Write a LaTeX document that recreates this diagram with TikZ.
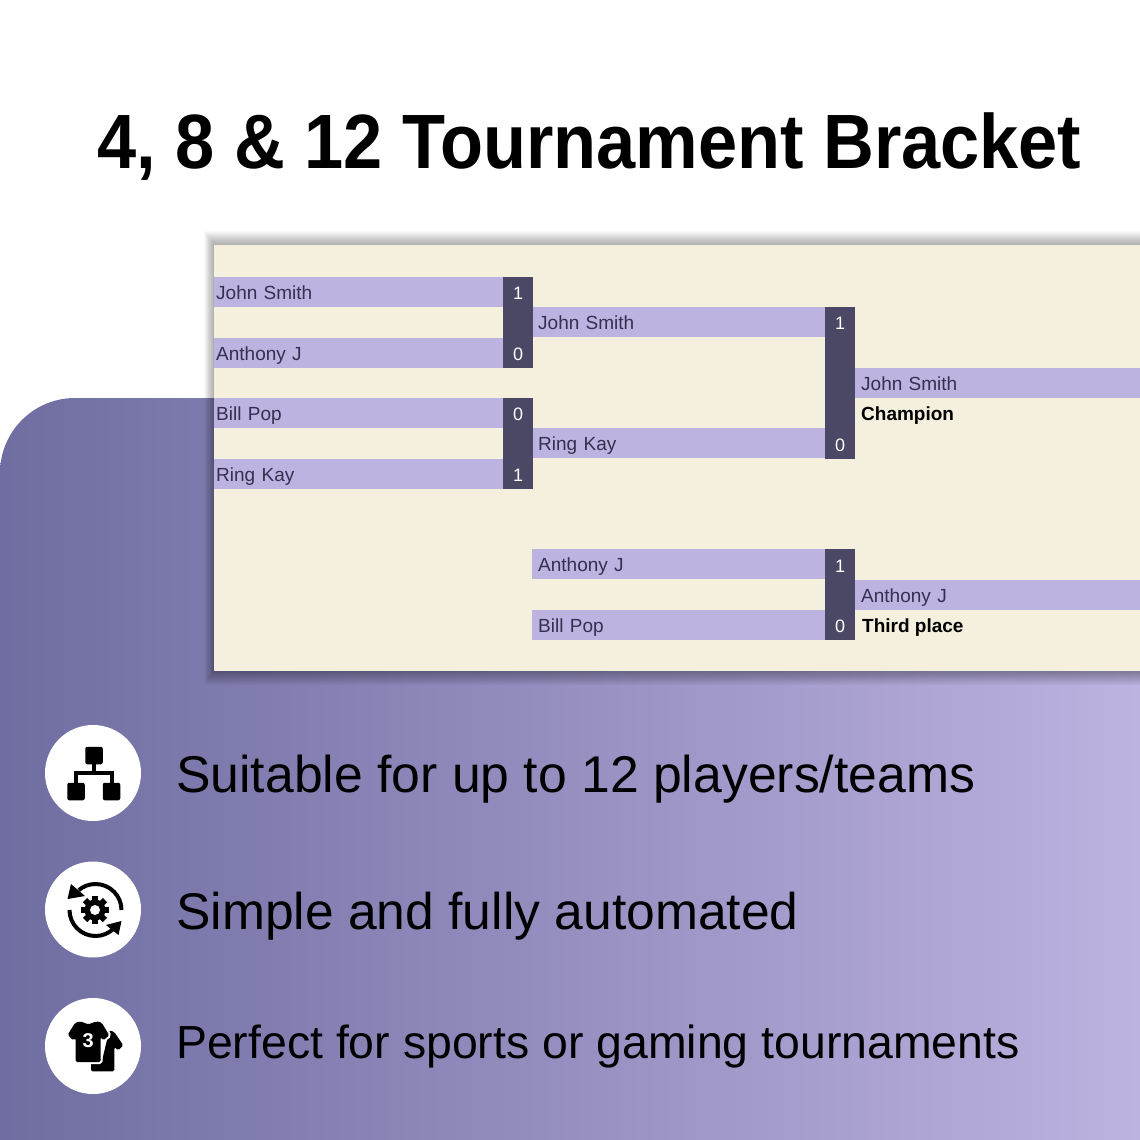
\documentclass[tikz,border=0pt]{standalone}
\usepackage{fontspec}
\setmainfont{Liberation Sans}
\definecolor{bandleft}{HTML}{6F6DA1}
\definecolor{bandright}{HTML}{BDB2E0}
\definecolor{cardcol}{HTML}{F5EFDD}
\definecolor{barcol}{HTML}{BDB3E0}
\definecolor{scorecol}{HTML}{4A4864}
\definecolor{namecol}{HTML}{352F50}
\begin{document}
\begin{tikzpicture}[x=1pt, y=-1pt,
	bar/.style={fill=barcol, text=namecol, anchor=west, align=left, minimum height=30pt, inner xsep=6pt, inner ysep=0pt, text height=15.5pt, text depth=0pt, font=\fontsize{19}{19}\selectfont, text width=#1pt},
	seed/.style={bar=285, inner xsep=2pt},
	tally/.style={fill=scorecol, anchor=north west, minimum width=30pt, minimum height=#1pt, inner sep=0pt},
	digit/.style={text=white, inner sep=0pt, font=\fontsize{18}{18}\selectfont},
	tag/.style={text=black, anchor=west, inner sep=0pt, font=\fontsize{19}{19}\selectfont\bfseries},
	disc/.style={circle, fill=white, minimum size=96pt, inner sep=0pt},
	feature/.style={text=black, anchor=base west, inner sep=0pt, font=\fontsize{#1}{#1}\selectfont},
	netbox/.style={fill=black, rounded corners=2pt, minimum size=17.5pt, inner sep=0pt}]
	\useasboundingbox (0,0) rectangle (1140,1140);
	\fill[white] (0,0) rectangle (1140,1140);
	\shade[left color=bandleft, right color=bandright] (0,1140) -- (0,473) arc[start angle=180, end angle=270, radius=75] -- (1140,398) -- (1140,1140) -- cycle;
	\node[text=black, anchor=base west, inner sep=0pt, xscale=.914, transform shape, font=\fontsize{77}{77}\selectfont\bfseries] (title) at (97,168) {4, 8 \& 12 Tournament Bracket};
	\foreach \s in {1,...,14}
		\fill[black, opacity=.022] (214-.7*\s,245-\s) rectangle (1140,671+\s);
	\node[fill=cardcol, anchor=north west, minimum width=926pt, minimum height=426pt, inner sep=0pt] (card) at (214,245) {};
	\node[seed] (smith) at (214,292) {John Smith};
	\node[seed] (anthony) at (214,352.5) {Anthony J};
	\node[seed] (bill) at (214,413) {Bill Pop};
	\node[seed] (ring) at (214,473.5) {Ring Kay};
	\node[bar=281] (smithtwo) at (532,322) {John Smith};
	\node[bar=281] (ringtwo) at (532,443) {Ring Kay};
	\node[bar=281] (anthonytwo) at (532,564) {Anthony J};
	\node[bar=281] (billtwo) at (532,625) {Bill Pop};
	\node[bar=273] (champ) at (855,383) {John Smith};
	\node[bar=273] (third) at (855,595) {Anthony J};
	\node[tally=90.5] (tallya) at (503,277) {};
	\node[tally=91] (tallyb) at (503,398) {};
	\node[tally=152] (tallyc) at (825,307) {};
	\node[tally=91] (tallyd) at (825,549) {};
	\node[digit] (da) at (518,293) {1};
	\node[digit] (db) at (518,354) {0};
	\node[digit] (dc) at (518,414) {0};
	\node[digit] (dd) at (518,475) {1};
	\node[digit] (de) at (840,323) {1};
	\node[digit] (df) at (840,445) {0};
	\node[digit] (dg) at (840,566) {1};
	\node[digit] (dh) at (840,626) {0};
	\node[tag] (champion) at (861,416) {Champion};
	\node[tag] (thirdplace) at (862,628) {Third place};
	\node[disc] (discnet) at (93,773) {};
	\node[disc] (discsync) at (93,909.5) {};
	\node[disc] (discshirt) at (93,1046) {};
	\node[netbox] (nettop) at (94,755.5) {};
	\node[netbox] (netleft) at (76,791.5) {};
	\node[netbox] (netright) at (111.5,791.5) {};
	\draw[line width=4pt] (nettop.south) -- ++(0,9) -| (netleft.north);
	\draw[line width=4pt] (nettop.south) -- ++(0,9) -| (netright.north);
	\draw[line width=4pt] (121.5,910) arc[start angle=0, end angle=-130, radius=26];
	\fill[black] (67.5,899) -- (71,884) -- (85,896) -- cycle;
	\draw[line width=4pt] (69.5,910) arc[start angle=180, end angle=45, radius=26];
	\fill[black] (121.5,921) -- (106,925) -- (118.5,935) -- cycle;
	\fill[black] (95,910) circle (10.5);
	\foreach \a in {0,45,...,315}
		\fill[black, rotate around={\a:(95,910)}] (92,896) rectangle (98,902);
	\fill[white] (95,910) circle (5);
	\fill[black, rounded corners=1.5pt] (109.3,1030.3) -- (114.3,1032) -- (123.3,1045.3) -- (118.3,1050.3) -- (114.3,1047) -- (114.3,1071.3) -- (91,1071.3) -- (91,1062) -- (101.7,1062) -- cycle;
	\path[draw=white, line width=4pt, postaction={fill=black}, rounded corners=1.5pt] (80,1021.3) -- (88.3,1024.3) -- (96.7,1021.3) -- (101.7,1022.7) -- (109.3,1035.3) -- (103.3,1040.3) -- (100.7,1037) -- (100.7,1062) -- (75.7,1062) -- (75.7,1038) -- (73.3,1040.3) -- (67.7,1034.7) -- (75,1023) -- cycle;
	\node[text=white, inner sep=0pt, font=\fontsize{20}{20}\selectfont\bfseries] (shirtno) at (88.3,1040.3) {3};
	\node[feature=51.7] (linea) at (176,792) {Suitable for up to 12 players/teams};
	\node[feature=51.6] (lineb) at (176,929) {Simple and fully automated};
	\node[feature=46.4] (linec) at (176,1058) {Perfect for sports or gaming tournaments};
\end{tikzpicture}
\end{document}
